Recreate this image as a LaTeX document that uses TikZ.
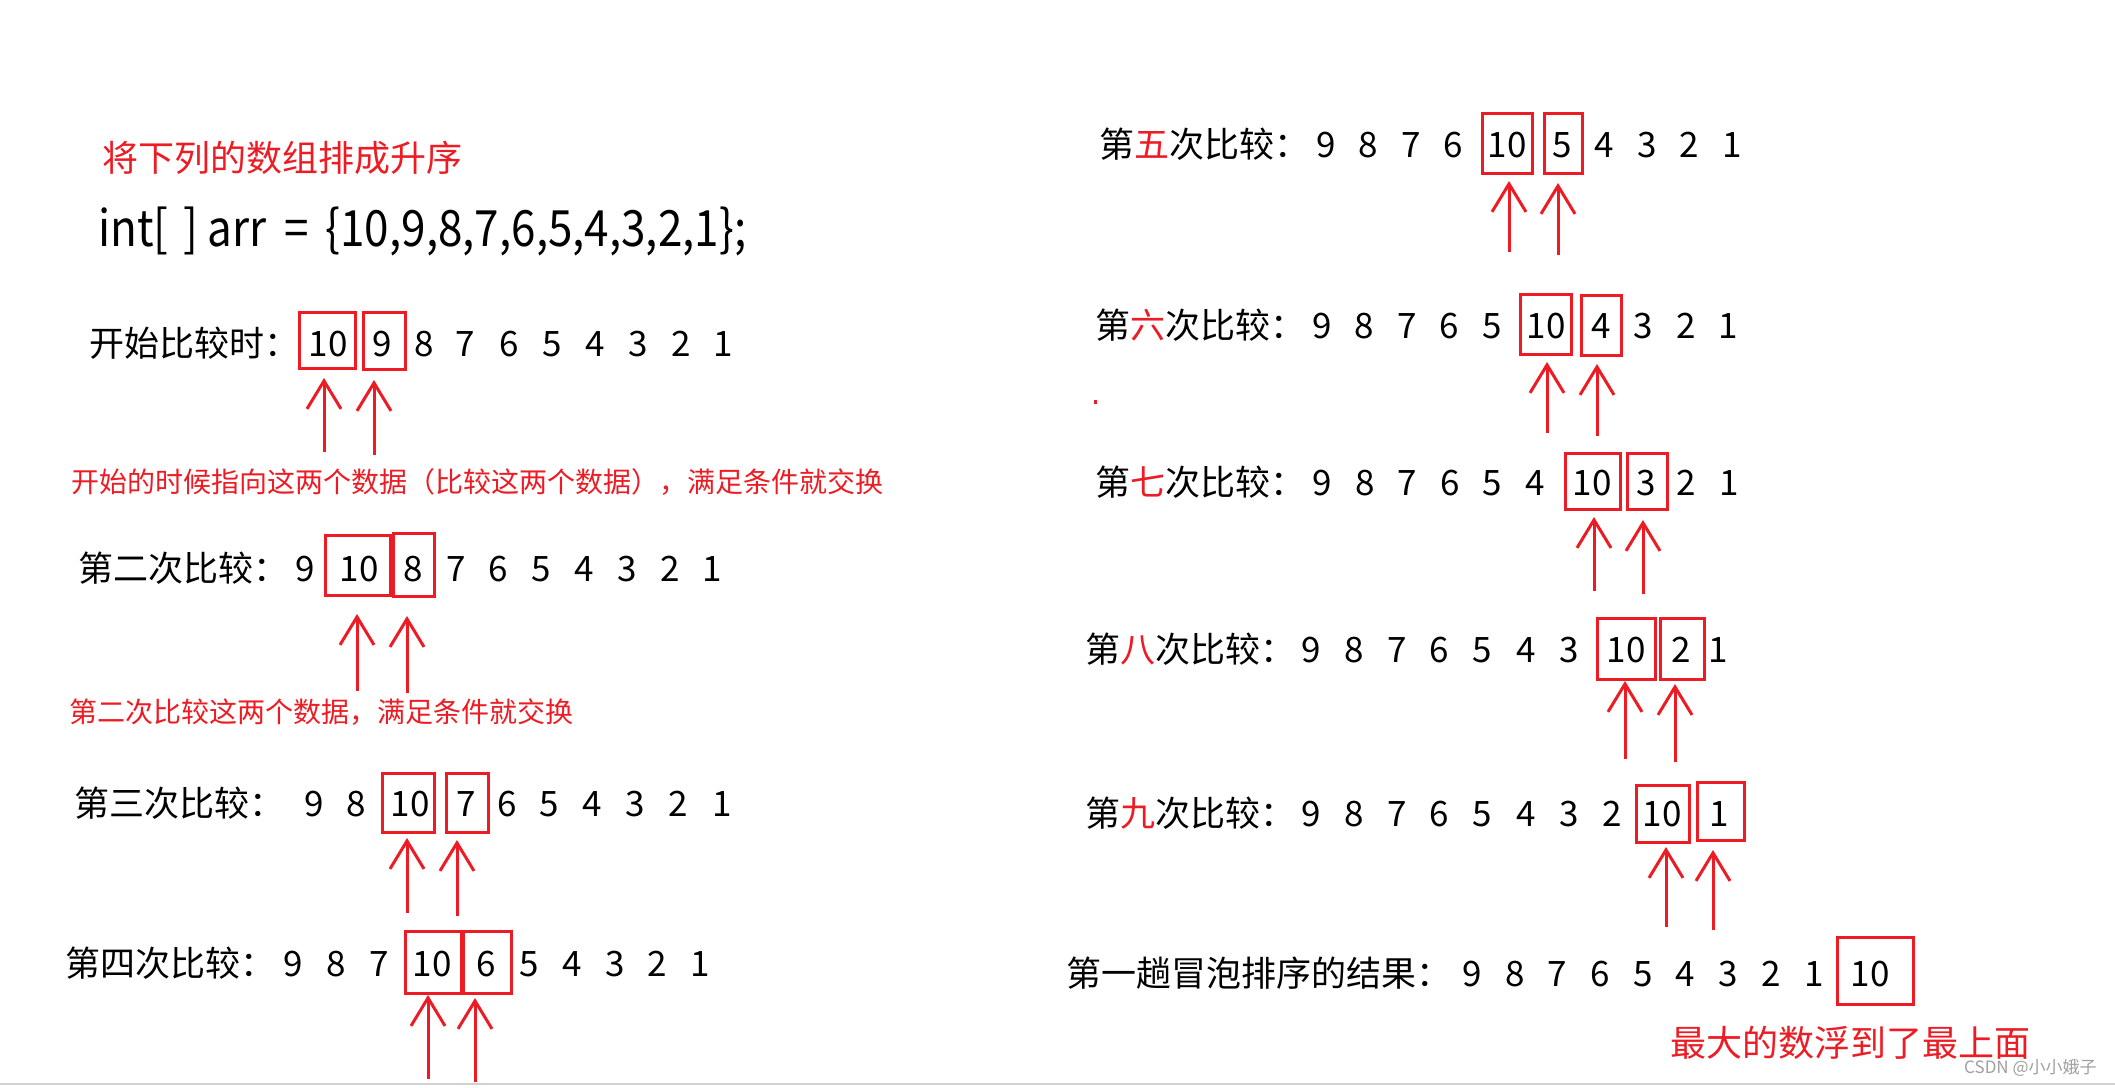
\documentclass[tikz,border=0pt]{standalone}
\usepackage{fontspec}
\usepackage{graphicx}
\setmainfont{Noto Sans CJK SC}
\usetikzlibrary{arrows.meta}
\definecolor{hl}{HTML}{ED1C24}
\definecolor{wm}{HTML}{A0A0A0}
\begin{document}
\begin{tikzpicture}[x=1pt,y=-1pt,
  lbl/.style={anchor=base west,inner sep=0pt,font=\fontsize{35}{40}\selectfont},
  num/.style={anchor=base,inner sep=0pt,font=\fontsize{35}{40}\selectfont},
  note/.style={anchor=base west,inner sep=0pt,text=hl,font=\fontsize{28}{32}\selectfont},
  box/.style={draw=hl,line width=3pt,inner sep=0pt},
  uparrow/.style={draw=hl,line width=3pt,-{Straight Barb[length=28pt,width=34pt,line width=3pt]}}]
\useasboundingbox (0,0) rectangle (2115,1087);
\fill[white] (0,0) rectangle (2115,1087);
\draw[line width=2pt,draw=black!18] (0,1084) -- (2115,1084);

% heading
\node[anchor=base west,inner sep=0pt,text=hl,font=\fontsize{36}{40}\selectfont] (title) at (102,171) {将下列的数组排成升序};
\node[anchor=base west,inner sep=0pt,font=\fontsize{50}{56}\selectfont] (code) at (98,246) {\scalebox{0.88}[1]{int[\,\,] arr\, =\, \{10,9,8,7,6,5,4,3,2,1\};}};

% row 1
\node[lbl] (l1) at (89,356) {开始比较时：};
\node[box,minimum width=56pt,minimum height=56pt] (b1a) at (327,340) {};
\node[box,minimum width=42pt,minimum height=57pt] (b1b) at (384,341) {};
\node[num] (t1a) at (328,356) {10};
\node[num] (t1b) at (382,356) {9};
\foreach \x/\v [count=\i] in {424/8,465/7,509/6,552/5,595/4,638/3,681/2,723/1}
  \node[num] (n1\i) at (\x,356) {\v};
\coordinate (s1a) at (324,452); \coordinate (e1a) at (324,378);
\coordinate (s1b) at (374,455); \coordinate (e1b) at (374,380);
\draw[uparrow] (s1a) -- (e1a);
\draw[uparrow] (s1b) -- (e1b);
\node[note] (m1) at (71,492) {开始的时候指向这两个数据（比较这两个数据），满足条件就交换};

% row 2
\node[lbl] (l2) at (78,581) {第二次比较：};
\node[num] (n20) at (305,581) {9};
\node[box,minimum width=65pt,minimum height=60pt] (b2a) at (357.5,565) {};
\node[box,minimum width=41pt,minimum height=63pt] (b2b) at (413.5,564.5) {};
\node[num] (t2a) at (359,581) {10};
\node[num] (t2b) at (413,581) {8};
\foreach \x/\v [count=\i] in {456/7,498/6,541/5,584/4,627/3,670/2,712/1}
  \node[num] (n2\i) at (\x,581) {\v};
\coordinate (s2a) at (357,691); \coordinate (e2a) at (357,614);
\coordinate (s2b) at (407,693); \coordinate (e2b) at (407,616);
\draw[uparrow] (s2a) -- (e2a);
\draw[uparrow] (s2b) -- (e2b);
\node[note] (m2) at (69,722) {第二次比较这两个数据，满足条件就交换};

% row 3
\node[lbl] (l3) at (74,816) {第三次比较：};
\foreach \x/\v [count=\i] in {314/9,356/8}
  \node[num] (n3p\i) at (\x,816) {\v};
\node[box,minimum width=52pt,minimum height=59pt] (b3a) at (408,802.5) {};
\node[box,minimum width=42pt,minimum height=59pt] (b3b) at (467,802.5) {};
\node[num] (t3a) at (410,816) {10};
\node[num] (t3b) at (466,816) {7};
\foreach \x/\v [count=\i] in {507/6,549/5,592/4,635/3,678/2,722/1}
  \node[num] (n3\i) at (\x,816) {\v};
\coordinate (s3a) at (407,913); \coordinate (e3a) at (407,838);
\coordinate (s3b) at (457,916); \coordinate (e3b) at (457,840);
\draw[uparrow] (s3a) -- (e3a);
\draw[uparrow] (s3b) -- (e3b);

% row 4
\node[lbl] (l4) at (65,976) {第四次比较：};
\foreach \x/\v [count=\i] in {293/9,336/8,379/7}
  \node[num] (n4p\i) at (\x,976) {\v};
\node[box,minimum width=56pt,minimum height=62pt] (b4a) at (433,962) {};
\node[box,minimum width=48pt,minimum height=62pt] (b4b) at (487,962) {};
\node[num] (t4a) at (432,976) {10};
\node[num] (t4b) at (486,976) {6};
\foreach \x/\v [count=\i] in {529/5,572/4,615/3,657/2,700/1}
  \node[num] (n4\i) at (\x,976) {\v};
\coordinate (s4a) at (428,1079); \coordinate (e4a) at (428,995);
\coordinate (s4b) at (475,1082); \coordinate (e4b) at (475,998);
\draw[uparrow] (s4a) -- (e4a);
\draw[uparrow] (s4b) -- (e4b);

% row 5
\node[lbl] (l5) at (1099,157) {第\textcolor{hl}{五}次比较：};
\foreach \x/\v [count=\i] in {1326/9,1368/8,1411/7,1453/6}
  \node[num] (n5p\i) at (\x,157) {\v};
\node[box,minimum width=50pt,minimum height=60pt] (b5a) at (1507,143) {};
\node[box,minimum width=38pt,minimum height=60pt] (b5b) at (1563,143) {};
\node[num] (t5a) at (1507,157) {10};
\node[num] (t5b) at (1562,157) {5};
\foreach \x/\v [count=\i] in {1604/4,1647/3,1689/2,1732/1}
  \node[num] (n5\i) at (\x,157) {\v};
\coordinate (s5a) at (1509,252); \coordinate (e5a) at (1509,181);
\coordinate (s5b) at (1558,255); \coordinate (e5b) at (1558,183);
\draw[uparrow] (s5a) -- (e5a);
\draw[uparrow] (s5b) -- (e5b);

% row 6
\node[lbl] (l6) at (1095,338) {第\textcolor{hl}{六}次比较：};
\foreach \x/\v [count=\i] in {1322/9,1364/8,1407/7,1449/6,1492/5}
  \node[num] (n6p\i) at (\x,338) {\v};
\node[box,minimum width=51pt,minimum height=60pt] (b6a) at (1545.5,324) {};
\node[box,minimum width=40pt,minimum height=60pt] (b6b) at (1601,325) {};
\node[num] (t6a) at (1546,338) {10};
\node[num] (t6b) at (1601,338) {4};
\foreach \x/\v [count=\i] in {1643/3,1686/2,1728/1}
  \node[num] (n6\i) at (\x,338) {\v};
\coordinate (s6a) at (1547,433); \coordinate (e6a) at (1547,362);
\coordinate (s6b) at (1597,436); \coordinate (e6b) at (1597,364);
\draw[uparrow] (s6a) -- (e6a);
\draw[uparrow] (s6b) -- (e6b);
\fill[hl] (1094,400) rectangle (1097,404);

% row 7
\node[lbl] (l7) at (1095,495) {第\textcolor{hl}{七}次比较：};
\foreach \x/\v [count=\i] in {1322/9,1365/8,1407/7,1450/6,1492/5,1535/4}
  \node[num] (n7p\i) at (\x,495) {\v};
\node[box,minimum width=55pt,minimum height=56pt] (b7a) at (1592.5,481) {};
\node[box,minimum width=40pt,minimum height=56pt] (b7b) at (1647,481) {};
\node[num] (t7a) at (1592,495) {10};
\node[num] (t7b) at (1646,495) {3};
\foreach \x/\v [count=\i] in {1686/2,1729/1}
  \node[num] (n7\i) at (\x,495) {\v};
\coordinate (s7a) at (1594,591); \coordinate (e7a) at (1594,517);
\coordinate (s7b) at (1643,594); \coordinate (e7b) at (1643,520);
\draw[uparrow] (s7a) -- (e7a);
\draw[uparrow] (s7b) -- (e7b);

% row 8
\node[lbl] (l8) at (1085,662) {第\textcolor{hl}{八}次比较：};
\foreach \x/\v [count=\i] in {1311/9,1354/8,1397/7,1439/6,1482/5,1526/4,1569/3}
  \node[num] (n8p\i) at (\x,662) {\v};
\node[box,minimum width=58pt,minimum height=61pt] (b8a) at (1626,648.5) {};
\node[box,minimum width=44pt,minimum height=61pt] (b8b) at (1682,648.5) {};
\node[num] (t8a) at (1626,662) {10};
\node[num] (t8b) at (1681,662) {2};
\node[num] (n81) at (1718,662) {1};
\coordinate (s8a) at (1625,759); \coordinate (e8a) at (1625,681);
\coordinate (s8b) at (1675,762); \coordinate (e8b) at (1675,684);
\draw[uparrow] (s8a) -- (e8a);
\draw[uparrow] (s8b) -- (e8b);

% row 9
\node[lbl] (l9) at (1085,826) {第\textcolor{hl}{九}次比较：};
\foreach \x/\v [count=\i] in {1311/9,1354/8,1397/7,1439/6,1482/5,1526/4,1569/3,1612/2}
  \node[num] (n9p\i) at (\x,826) {\v};
\node[box,minimum width=53pt,minimum height=57pt] (b9a) at (1662.5,813.5) {};
\node[box,minimum width=47pt,minimum height=58pt] (b9b) at (1720.5,811) {};
\node[num] (t9a) at (1662,826) {10};
\node[num] (t9b) at (1719,826) {1};
\coordinate (s9a) at (1666,927); \coordinate (e9a) at (1666,847);
\coordinate (s9b) at (1713,930); \coordinate (e9b) at (1713,850);
\draw[uparrow] (s9a) -- (e9a);
\draw[uparrow] (s9b) -- (e9b);

% result
\node[lbl] (l10) at (1066,986) {第一趟冒泡排序的结果：};
\foreach \x/\v [count=\i] in {1472/9,1515/8,1557/7,1600/6,1643/5,1685/4,1728/3,1771/2,1814/1}
  \node[num] (n10p\i) at (\x,986) {\v};
\node[box,minimum width=76pt,minimum height=67pt] (b10) at (1875,970.5) {};
\node[num] (t10) at (1870,986) {10};
\node[anchor=base west,inner sep=0pt,text=hl,font=\fontsize{36}{40}\selectfont] (m3) at (1670,1056) {最大的数浮到了最上面};
\node[anchor=base west,inner sep=0pt,text=wm,font=\fontsize{17}{20}\selectfont] (wmk) at (1964,1073) {CSDN @小小娥子};
\end{tikzpicture}
\end{document}
